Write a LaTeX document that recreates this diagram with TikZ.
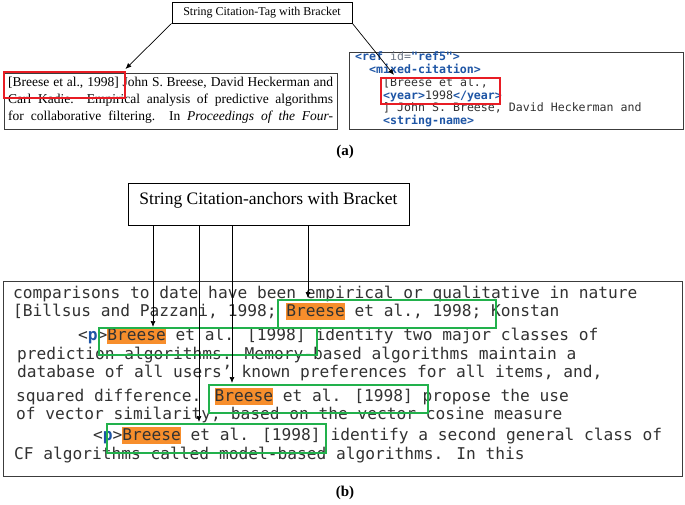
\documentclass[tikz,border=0pt]{standalone}
\usepackage{fontspec}
\setmainfont{Liberation Serif}
\newfontfamily\monof{DejaVu Sans Mono}
\usetikzlibrary{arrows.meta}
\definecolor{redbox}{RGB}{232,28,36}
\definecolor{greenbox}{RGB}{34,177,76}
\definecolor{hlorange}{RGB}{247,142,44}
\definecolor{tagblue}{RGB}{30,85,165}
\definecolor{attrgray}{RGB}{110,120,135}
\definecolor{codegray}{RGB}{50,50,50}
\definecolor{framegray}{RGB}{60,60,60}
\newcommand{\hlb}[1]{\makebox[0pt][l]{\textcolor{hlorange}{\rule[-4.1pt]{58.5pt}{17pt}}}#1}
\newcommand{\tg}[1]{{\color{tagblue}\bfseries #1}}
\tikzset{
  lblbox/.style={draw=black, line width=0.8pt, inner sep=0pt},
  framebox/.style={draw=framegray, line width=0.9pt, inner sep=0pt, anchor=north west},
  redb/.style={draw=redbox, line width=2.2pt, inner sep=0pt, anchor=north west},
  greenb/.style={draw=greenbox, line width=2.4pt, inner sep=0pt, anchor=north west},
  arr/.style={-{Latex[length=6pt,width=5pt]}, line width=0.7pt, black},
  bcode/.style={font=\monof\fontsize{16.2}{19}\selectfont, text=codegray, anchor=mid west, inner sep=0pt},
  acode/.style={font=\monof\fontsize{11.6}{14}\selectfont, text=codegray, anchor=mid west, inner sep=0pt},
  aser/.style={font=\fontsize{13.5}{16}\selectfont, anchor=mid west, inner sep=0pt},
  sublbl/.style={font=\bfseries\fontsize{15}{18}\selectfont, inner sep=0pt},
}
\begin{document}
\begin{tikzpicture}[x=1pt, y=-1pt]
\useasboundingbox[fill=white] (0,0) rectangle (685,504);

% ---------------- (a) ----------------
\node[lblbox, minimum width=180pt, minimum height=21pt, font=\fontsize{12}{14}\selectfont] (lbla) at (262,12.5) {String Citation-Tag with Bracket};

\node[framebox, minimum width=333pt, minimum height=56pt] (boxal) at (4,73) {};
\node[aser] (al1) at (8,84) {\makebox[325pt][s]{[Breese et al., 1998] John S. Breese, David Heckerman and}};
\node[aser] (al2) at (8,101) {\makebox[325pt][s]{Carl Kadie.\ \ Empirical analysis of predictive algorithms}};
\node[aser] (al3) at (8,118) {\makebox[325pt][s]{for collaborative filtering.\ \ In \textit{Proceedings of the Four-}}};
\node[redb, minimum width=121pt, minimum height=26pt] (redl) at (3,71) {};

\node[framebox, minimum width=334pt, minimum height=77pt] (boxar) at (349,52) {};
\node[acode] (ar1) at (355,58) {\tg{<ref} {\color{attrgray}id=}{\color{tagblue}\bfseries"ref5">}};
\node[acode] (ar2) at (369,71) {\tg{<mixed-citation>}};
\node[acode] (ar3) at (383,84) {[Breese et al.,};
\node[acode] (ar4) at (383,97) {\tg{<year>}1998\tg{</year>}};
\node[acode] (ar5) at (383,109.5) {] John S. Breese, David Heckerman and};
\node[acode] (ar6) at (383,122) {\tg{<string-name>}};
\node[redb, minimum width=119pt, minimum height=26pt] (redr) at (380,77) {};

\coordinate (tipal) at (125.5,69);
\coordinate (tipar) at (394,75);
\draw[arr] (lbla.south west) -- (tipal);
\draw[arr] (lbla.south east) -- (tipar);

\node[sublbl] (capa) at (345,152) {(a)};

% ---------------- (b) ----------------
\node[lblbox, minimum width=281pt, minimum height=42pt, text height=14pt, text depth=12.4pt, font=\fontsize{17.5}{20}\selectfont] (lblb) at (268.5,204) {String Citation-anchors with Bracket};

\node[framebox, minimum width=679pt, minimum height=195pt] (bigbox) at (3,281) {};

\node[bcode] (b1) at (13,296) {comparisons to date have been empirical or qualitative in nature};
\node[bcode] (b2) at (13,314) {[Billsus and Pazzani, 1998; \hlb{Breese} et al., 1998; Konstan};
\node[bcode] (b3) at (78,338) {<{\color{tagblue}\bfseries p}>\hlb{Breese} et al. [1998] identify two major classes of};
\node[bcode] (b4) at (17,357) {prediction algorithms. Memory-based algorithms maintain a};
\node[bcode] (b5) at (17,375) {database of all users’ known preferences for all items, and,};
\node[bcode] (b6) at (16,399) {squared difference. \hlb{Breese} et al. [1998] propose the use};
\node[bcode] (b7) at (16,417) {of vector similarity, based on the vector cosine measure};
\node[bcode] (b8) at (93,438) {<{\color{tagblue}\bfseries p}>\hlb{Breese} et al. [1998] identify a second general class of};
\node[bcode] (b9) at (14,457) {CF algorithms called model-based algorithms. In this};

\node[greenb, minimum width=218pt, minimum height=28pt] (g1) at (277,299) {};
\node[greenb, minimum width=218pt, minimum height=27pt] (g2) at (98,327) {};
\node[greenb, minimum width=219pt, minimum height=28pt] (g3) at (208,384) {};
\node[greenb, minimum width=219pt, minimum height=29pt] (g4) at (106,423) {};

\coordinate (t1) at (308,298);
\coordinate (t2) at (153,327);
\coordinate (t3) at (232,383);
\coordinate (t4) at (199,422);
\draw[arr] (lblb.south -| t1) -- (t1);
\draw[arr] (lblb.south -| t2) -- (t2);
\draw[arr] (lblb.south -| t3) -- (t3);
\draw[arr] (lblb.south -| t4) -- (t4);

\node[sublbl] (capb) at (345,493) {(b)};
\end{tikzpicture}
\end{document}
